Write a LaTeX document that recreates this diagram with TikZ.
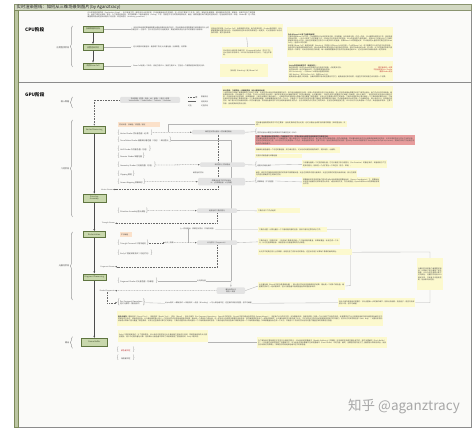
\documentclass[tikz,border=0pt]{standalone}
\usepackage{fontspec}
\setmainfont{Noto Sans CJK SC}
\XeTeXlinebreaklocale "zh"
\XeTeXlinebreakskip=0pt plus 0.3pt
\usetikzlibrary{arrows.meta,decorations.pathreplacing,calc}
\pgfdeclarelayer{bg}
\pgfsetlayers{bg,main}
\definecolor{bgin}{HTML}{FAFAF8}
\definecolor{framec}{HTML}{8C8C8C}
\definecolor{titlec}{HTML}{D2D8C2}
\definecolor{titled}{HTML}{8A9470}
\definecolor{bandc}{HTML}{BCC6A2}
\definecolor{bandd}{HTML}{7D8A5B}
\definecolor{gfill}{HTML}{C8D7AC}
\definecolor{gdark}{HTML}{5F7540}
\definecolor{gtext}{HTML}{3D4A28}
\definecolor{boxg}{HTML}{E3E3E3}
\definecolor{noteY}{HTML}{FCF9CE}
\definecolor{noteR}{HTML}{E79C9C}
\definecolor{noteO}{HTML}{FBE1CA}
\definecolor{brgray}{HTML}{9A9A9A}
\definecolor{txtc}{HTML}{4A4A4A}
\definecolor{linec}{HTML}{B4B4B4}
\definecolor{dashc}{HTML}{6A6A6A}
\definecolor{redt}{HTML}{C03030}
\definecolor{wmk}{HTML}{A8A8A8}
\newcommand{\fs}{\fontsize{1.75}{2.15}\selectfont}
\newcommand{\fr}{\fontsize{1.9}{2.3}\selectfont}
\newcommand{\fg}{\fontsize{2}{2.4}\selectfont}
\newcommand{\bropen}{{\color{brgray}\fontsize{5.5}{5.5}\selectfont\{}}
\newcommand{\brclose}{{\color{brgray}\fontsize{5.5}{5.5}\selectfont\}}}
\newcommand{\brw}[1]{\bropen\hspace{0.8pt}#1\hspace{0.8pt}\brclose}
\newcommand{\ynote}[7][noteY]{\node[notest, fill=#1, minimum width={#5pt-#3pt}, minimum height={#6pt-#4pt}, text width={#5pt-#3pt-1.6pt}] (#2) at (#3,#4) {#7};}
\newcommand{\gb}[6]{\node[gbox, minimum width={#4pt-#2pt}, minimum height={#5pt-#3pt}] (#1) at ({(#2+#4)/2},{(#3+#5)/2}) {#6};}
\newcommand{\tA}{顶点着色器是流水线的第一个可编程阶段，输入来自CPU，处理单位是顶点，每个输入的顶点都会调用一次顶点着色器。顶点着色器本身不可以创建或者销毁任何顶点，也无法得到顶点与顶点之间的关系。正因为这种相互独立性，GPU可以并行化处理每一个顶点，处理速度非常快。主要工作有：坐标变换和逐顶点光照。}
\newcommand{\tB}{光栅化阶段的目标是计算每个图元覆盖了哪些像素，以及为这些像素计算它们的颜色。三角形设置阶段计算光栅化一个三角网格所需的信息，三角形遍历阶段检查每个像素是否被一个三角网格所覆盖，如果被覆盖就会生成一个片元，并使用三个顶点的顶点信息对整个覆盖区域的像素进行插值。}
\newcommand{\tC}{片元着色器的输入是上一个阶段对顶点信息插值得到的结果，输出是一个或者多个颜色值。这一阶段可以完成很多重要的渲染技术，其中最重要的技术之一就是纹理采样。片元着色器仅可以影响单个片元，不可以将自己的任何结果直接发送给它的邻居们，但可以访问到导数信息（ddx、ddy）。}
\newcommand{\tD}{逐片元操作（Per-Fragment Operations，OpenGL中的说法，DirectX中称为输出合并阶段 Output-Merger）：决定每个片元的可见性，涉及模板测试、深度测试等；如果一个片元通过了所有的测试，就需要把这个片元的颜色值和已经存储在颜色缓冲区中的颜色进行合并，或者说是混合。}
\newcommand{\tE}{为了避免我们看到那些正在进行光栅化的图元，GPU会使用双重缓冲（Double Buffering）的策略：对场景的渲染是在幕后发生的，即在后置缓冲（Back Buffer）中；一旦场景已经被渲染到了后置缓冲中，GPU就会交换后置缓冲区和前置缓冲（Front Buffer）中的内容。}
\newcommand{\tF}{几何阶段用于和每个需要绘制的几何体打交道，负责把顶点坐标变换到屏幕空间中，再交给光栅器进行处理。对输入的渲染图元进行多步处理后，这一阶段将会输出屏幕空间的二维顶点坐标、每个顶点对应的深度值、着色等相关信息，并传递给下一个阶段。}
\begin{document}
\begin{tikzpicture}[x=1pt,y=-1pt,
  gnode/.style={draw=gdark, fill=gfill, line width=0.45pt, inner sep=0pt, font=\fg, text=gtext, align=center},
  notest/.style={anchor=north west, inner sep=0.8pt, font=\fs, align=left, text=txtc},
  gbox/.style={fill=boxg, rounded corners=1.2pt, inner sep=0.5pt, font=\fs, align=center, text=txtc},
  brrow/.style={anchor=west, inner sep=0pt, font=\fr, text=txtc},
  ptext/.style={anchor=west, inner sep=0pt, font=\fs, text=txtc},
  lbrace/.style={decorate, decoration={brace, amplitude=2.2pt}, draw=brgray, line width=0.45pt},
  lanelab/.style={anchor=east, inner sep=0pt, font=\fontsize{2.1}{2.5}\selectfont, text=txtc},
  dfl/.style={draw=dashc, dash pattern=on 0.9pt off 0.7pt, line width=0.28pt, -{Latex[length=1.8pt,width=1.5pt]}},
  sfl/.style={draw=linec, line width=0.35pt},
  sarr/.style={draw=linec, line width=0.35pt, -{Latex[length=1.8pt,width=1.5pt]}},
  mainarr/.style={draw=black!70, line width=0.45pt, -{Latex[length=2.2pt,width=2pt]}}]
\useasboundingbox (0,0) rectangle (474,430);
\begin{pgfonlayer}{bg}
\fill[white] (0,0) rectangle (474,430);
\draw[framec, fill=bgin, line width=0.7pt] (14,4) rectangle (471,427);
\draw[titled, fill=titlec, line width=0.5pt] (14,4) rectangle (471,10.5);
\draw[bandd, fill=bandc, line width=0.4pt] (14,10.5) rectangle (18.5,427);
\draw[framec, line width=0.9pt] (18.5,82.5) -- (471,82.5);
\end{pgfonlayer}
% title
\node[anchor=west, inner sep=0pt, font=\fontsize{4.3}{5}\selectfont, text=black!85] (title) at (16.5,7.3) {实时渲染管线：如何从三维场景到图片(by Aganztracy)};
% ================= CPU =================
\node[anchor=west, inner sep=0pt, font=\fontsize{4.6}{5}\selectfont\bfseries] (cpulab) at (25,29.5) {CPU阶段};
\draw[lbrace] (72.5,67) -- (72.5,26);
\node[lanelab] (cpulane) at (69.5,48) {应用程序阶段};
\node[notest, text width=168pt] (cputop) at (86.5,10.8) {CPU阶段即应用阶段（Application Stage），由开发者主导，通常由CPU负责实现，开发者拥有绝对的控制权。这一阶段主要有三个任务：首先，准备好场景数据，例如摄像机的位置、视锥体、场景中包含了哪些模型、使用了哪些光源等；其次，为了提高渲染性能，往往需要做一个粗粒度剔除（Culling）工作，把那些不可见的物体剔除出去；最后，需要设置好每个模型的渲染状态，包括使用的材质、纹理、Shader等。这一阶段最重要的输出是渲染所需的几何信息，即渲染图元（rendering primitives）。};
\node[gnode, minimum width=20pt, minimum height=6pt] (c1) at (93,29) {加载数据到显存};
\node[gnode, minimum width=20pt, minimum height=6pt] (c2) at (93,47.3) {设置渲染状态};
\node[gnode, minimum width=20pt, minimum height=6pt] (c3) at (93,66) {调用Draw Call};
\node[ptext, text width=78pt, align=left] (c1t) at (131,29) {• 所有渲染所需的数据都需要从硬盘加载到系统内存中，然后网格和纹理等数据又被加载到显卡上的存储空间——显存中。显卡对显存的访问速度更快，数据加载完成后内存中的数据可以被移除。};
\node[ptext] (c2t) at (131,47.3) {• 定义网格如何被渲染：使用哪个顶点/片元着色器、光源属性、材质等。};
\node[ptext] (c3t) at (131,66) {• Draw Call就是一个命令，发起方是CPU，接收方是GPU，它指向一个需要被渲染的图元列表。};
\ynote{n1}{210}{24}{283}{37}{渲染状态的切换（SetPass Call）会带来额外开销：每次改变材质、Shader或纹理时，GPU都需要重新设置内部状态。将使用相同渲染状态的物体放在一起提交，可以显著减少状态切换的次数，提升渲染效率。}
\ynote{n2}{222}{47}{273}{58}{CPU和GPU通过命令缓冲区（Command Buffer）并行工作：CPU向其中添加命令，GPU从中读取命令并执行，二者互不等待。}
\node[anchor=north west, inner sep=0pt, fill=noteY, minimum width=48pt, minimum height=13pt, font=\fs, text=txtc] (n3) at (220,64) {批处理（Batching）减少Draw Call};
\ynote{n4}{287}{27}{393}{57}{\textbf{为什么Draw Call多了会影响帧率？}\\在每次调用Draw Call之前，CPU需要向GPU发送很多内容，包括数据、状态和命令等。在这一阶段，CPU需要完成很多工作，例如检查渲染状态等。一旦CPU完成了这些准备工作，GPU就可以开始本次的渲染。GPU的渲染能力是很强的，渲染200个还是2000个三角网格通常没有什么区别，因此渲染速度往往快于CPU提交命令的速度。如果Draw Call的数量太多，CPU就会把大量时间花费在提交Draw Call上，造成CPU的过载。\\如何减少Draw Call？使用批处理（Batching）把很多小的Draw Call合并成一个大的Draw Call。由于需要在CPU的内存中合并网格，而合并的过程是需要消耗时间的，因此批处理技术更加适合于那些静态的物体，例如不会移动的大地、石头等，对于这些静态物体只需要合并一次即可。对动态物体进行批处理，每一帧都需要重新进行合并然后再发送给GPU，这对空间和时间都会造成一定的影响。}
\ynote{n5}{288}{61}{393}{81}{\textbf{Unity中的批处理方式（合批条件）：}\\静态批处理：标记为Static的物体在运行前合并网格，占用更多内存。\hfill\textcolor{redt}{要求使用同一材质}\\动态批处理：运行时每帧合并，顶点属性数量有限制。\hfill\textcolor{redt}{不能使用多Pass Shader}\\GPU Instancing：一次Draw Call绘制大量相同网格。\hfill\textcolor{redt}{需要Shader支持}\\SRP Batcher：减少SetPass Call，而非Draw Call。\\避免使用大量很小的网格，当确实需要时考虑是否要合并它们；避免使用过多的材质，尽量在不同的网格之间共用同一个材质。}
% ================= GPU =================
\node[anchor=west, inner sep=0pt, font=\fontsize{4.6}{5}\selectfont\bfseries] (gpulab) at (25,94.5) {GPU阶段};
\draw[lbrace] (72.5,108) -- (72.5,97);
\node[lanelab] (l1) at (69.5,102) {输入数据};
\gb{gtop}{120}{97}{180}{103}{顶点数据（位置、法线、UV、颜色）/ 索引 / 纹理\\Vertex Buffer · Index Buffer · Textures · Uniforms}
\coordinate (lg1s) at (188,97);
\coordinate (lg1e) at (197.5,97);
\node[ptext] (lg1) at (201,97) {数据流向};
\coordinate (lg2s) at (188,101.5);
\coordinate (lg2e) at (196,101.5);
\node[ptext] (lg2) at (201,101.5) {调用关系};
\node[ptext] (lg3a) at (188,106) {可选};
\node[ptext] (lg3) at (201,106) {可选阶段};
\ynote{gnote}{222}{85.5}{393}{108}{\textbf{GPU阶段：几何阶段 + 光栅化阶段（GPU渲染流水线）}\\\tF 在GPU上实现的流水线中，有的阶段是完全可编程控制的（如顶点着色器、片元着色器），有的阶段可以配置但不可编程（如裁剪、逐片元操作），有的阶段则完全由GPU固定实现，开发者没有任何控制权（如屏幕映射、三角形设置和三角形遍历）。\tB\tA}
% geometry lane
\draw[lbrace] (72.5,217) -- (72.5,120);
\node[lanelab] (l2) at (69.5,169) {几何阶段};
\node[gnode, minimum width=22pt, minimum height=7pt] (v1) at (94.3,129.5) {Vertex Processing};
\ynote[noteO]{o1}{118}{122}{160}{127}{顶点处理：可编程 / 可配置 / 固定}
\node[brrow] (r1) at (117.5,132.3) {\brw{Vertex Shader 顶点着色器（必须）}};
\node[brrow] (r2) at (117.5,140) {\brw{Tessellation Shader 曲面细分着色器（可选）：细分图元}};
\node[brrow] (r3) at (117.5,148.3) {\brw{Hull Shader 外壳着色器（可选）}};
\node[brrow] (r4) at (117.5,156) {\brw{Domain Shader 域着色器}};
\node[brrow] (r5) at (117.5,165) {\brw{Geometry Shader 几何着色器（可选）}};
\node[brrow] (r6) at (117.5,173.3) {\brw{Clipping 裁剪}};
\node[brrow] (r7) at (117.5,181.7) {\brw{Screen Mapping 屏幕映射}};
\gb{g1}{192}{130}{245}{134.5}{裁剪空间顶点坐标 + 顶点属性输出}
\gb{g5}{200}{162.5}{245}{167}{新的图元 / 顶点输出}
\node[ptext] (t6) at (193,173.3) {裁剪后的顶点};
\gb{g7}{198}{178}{245}{185.5}{屏幕坐标系下的顶点坐标\\（x、y为屏幕坐标，z为深度）}
\node[ptext, anchor=east] (vs) at (113,189.5) {Vertex Stream};
\coordinate (k1) at (168,132.3);
\ynote{ya}{255}{121}{347}{127}{顶点着色器需要完成的工作主要有：坐标变换和逐顶点光照；也可以输出后续阶段所需的数据（如纹理坐标、法线）。}
\node[ptext] (cc1) at (255,131.7) {\bropen\ 把顶点坐标从模型空间转换到齐次裁剪空间（MVP）};
\ynote[noteR]{yr}{255}{135}{415}{145}{\textbf{注意：顶点着色器必须完成的一个最基本的工作：把顶点坐标从模型空间转换到齐次裁剪空间。}\\\tA 在Unity Shader中通常写作 UnityObjectToClipPos(v.vertex)，类似的代码几乎出现在所有的顶点着色器中。}
\ynote{yb}{255}{146.7}{340}{153.3}{曲面细分着色器是一个可选的着色器，用于细分图元，可以动态地增加网格的细节，例如地形、水面等。}
\ynote{yc}{255}{154.3}{302}{157.3}{包括外壳着色器与域着色器}
\node[ptext] (cc5) at (255,165) {\bropen\ 逐图元的着色操作};
\ynote{yd}{302}{160}{387}{168.3}{几何着色器是一个可选的着色器，它可以被用于执行逐图元（Per-Primitive）的着色操作，或者被用于产生更多的图元，例如把一个点扩展为一个四边形（粒子、草地）。}
\ynote{ye}{255}{170}{357}{176.7}{裁剪：那些不在摄像机视野范围内的物体不需要被处理。完全在视野外的图元被丢弃，完全在视野内的图元继续传递，部分在视野内的图元被裁剪并生成新的顶点。}
\node[ptext] (cc7) at (255,181) {\bropen\ 屏幕映射（不可配置）};
\ynote{yf}{302}{176.7}{380}{186.7}{屏幕映射的任务是把每个图元的x和y坐标转换到屏幕坐标系（Screen Coordinates）下，屏幕坐标系和显示画面的分辨率有很大关系。z坐标保持不变，作为深度值；OpenGL和DirectX的屏幕坐标原点不同。}
\node[gnode, minimum width=23pt, minimum height=8pt] (v2) at (94.3,198) {Primitive\\Assembly};
\node[brrow] (r8) at (117.5,210.7) {\brw{Primitive Assembly 图元装配}};
\gb{g8}{197}{208.3}{237}{213}{组装后的三角形图元}
\ynote{yg}{257}{208.3}{300}{213}{三角形由三个顶点组成}
\node[ptext, anchor=east] (ts) at (115,223.3) {Triangle Stream};
% raster lane
\draw[lbrace] (72.5,300) -- (72.5,232);
\node[lanelab] (l3) at (69.5,266) {光栅化阶段};
\node[gnode, minimum width=22pt, minimum height=6pt] (v3) at (94.3,234.5) {Rasterization};
\ynote[noteO]{o2}{120}{231.7}{132}{236.7}{不可编程}
\node[ptext] (t229) at (180,229.3) {上一阶段输出：屏幕空间顶点（三角形网格）};
\node[brrow] (r9) at (117.5,242.7) {\brw{Triangle Traversal 三角形遍历}};
\node[ptext] (t9) at (165,242.7) {片元 / 像素};
\gb{g9}{197}{240.3}{237}{245}{片元序列（Fragments）}
\node[brrow] (r10) at (117.5,252.3) {\brw{Early-Z 提前深度测试（可选优化）}};
\node[ptext, anchor=east] (fs) at (115,266.7) {Fragment Stream};
\ynote{y1}{258}{227.3}{327}{232.3}{三角形设置：计算光栅化一个三角网格所需的信息，例如三角形边界的表示方式。}
\ynote{y2}{258}{238.3}{340}{245}{三角形遍历（扫描变换）：检查每个像素是否被一个三角网格所覆盖，如果被覆盖，就会生成一个片元，片元包括屏幕坐标、深度信息以及插值得到的顶点属性。}
\ynote{y3}{258}{249}{352}{255}{片元并不是真正意义上的像素，而是包含了很多状态的集合，这些状态用于计算每个像素的最终颜色。}
\ynote{ytall}{417}{258}{443}{290}{光栅化阶段的两个最重要的目标：计算每个图元覆盖了哪些像素，以及为这些像素计算它们的颜色。光栅化阶段由GPU固定实现，开发者无法直接控制，但会影响到性能。}
\node[gnode, minimum width=23pt, minimum height=6.5pt] (v4) at (94.3,277) {Fragment Processing};
\node[brrow] (r11) at (117.5,280.7) {\brw{Fragment Shader 片元着色器（可编程）}};
\node[ptext] (t11) at (197,280.7) {片元颜色值};
\coordinate (jn) at (231,280.7);
\gb{g11}{216.7}{287.3}{245}{294}{着色后的片元\\颜色 + 深度}
\node[ptext, anchor=east] (sf) at (115,290.7) {Shaded Fragments};
\ynote{y4}{258}{281.7}{345}{290}{片元着色器（DirectX中称为像素着色器）：输入是对顶点信息插值得到的结果，输出是一个或多个颜色值。最重要的技术之一是纹理采样，在片元着色器中使用插值后的纹理坐标采样。}
\node[brrow, align=left] (r12) at (120,302.7) {Per-Fragment Operations\\逐片元操作（输出合并）};
\node[anchor=east, inner sep=0pt, font=\fontsize{7}{7}\selectfont, text=brgray] (r12o) at (r12.west) {\{};
\node[anchor=west, inner sep=0pt, font=\fontsize{7}{7}\selectfont, text=brgray] (r12c) at (r12.east) {\}};
\node[ptext] (t12) at (165,303.3) {Alpha测试 → 模板测试 → 深度测试 → 混合（Blending）→ 写入颜色缓冲区；这些操作高度可配置，但不可编程};
\ynote{yh}{338}{298}{415}{307}{逐片元操作是高度可配置的：可以设置每一步的操作细节，例如比较函数、混合因子、是否开启深度写入等，但不可编程。}
\ynote{yk}{117}{311}{383}{326}{\textbf{逐片元操作：}模板测试（Stencil Test）、深度测试（Depth Test）、混合（Blend）。\tD\tC\tB}
\ynote{yi}{118}{330}{208}{341.7}{Early-Z 提前深度测试：为了提高性能，GPU会尽可能在执行片元着色器之前就进行测试，把那些被遮挡的片元提前剔除，减少不必要的着色计算。但如果片元着色器中修改了深度或使用了透明度测试，Early-Z会失效。}
\ynote{yj}{257}{336.7}{387}{348.3}{\tE 最终，当模型的图元经过了上面层层计算和测试后，就会显示到我们的屏幕上，屏幕显示的就是颜色缓冲区中的颜色值。}
% output lane
\node[gnode, minimum width=26.7pt, minimum height=7.7pt] (v5) at (94.3,342.2) {Frame Buffer};
\draw[lbrace] (72.5,348.3) -- (72.5,336.7);
\node[lanelab] (l4) at (69.5,342.3) {输出};
\node[brrow] (ra) at (116.7,349.3) {\brw{\hspace{1.5pt}\textcolor{redt}{颜色缓冲区}\hspace{1.5pt}}};
\node[brrow] (rb) at (116.7,357.3) {\brw{\hspace{1.5pt}深度缓冲区\hspace{1.5pt}}};
% watermark
\node[inner sep=0pt, font=\fontsize{13.5}{14}\selectfont, text=wmk] (wm) at (404,407) {知乎 @aganztracy};
% ================= connectors =================
\begin{pgfonlayer}{bg}
\draw[mainarr] (c1) -- (c2);
\draw[mainarr] (c2) -- (c3);
\draw[sfl] (c1.east) -- (c1t.west);
\draw[sfl] (c2.east) -- (c2t.west);
\draw[sfl] (c3.east) -- (c3t.west);
\draw[sfl] (n1.south) -- (n2.north);
\draw[dfl] (lg1s) -- (lg1e);
\draw[draw=black!60, line width=0.35pt] (lg2s) -- (lg2e);
\draw[dfl] (gtop.west) -| (v1.north);
\draw[mainarr] (v1) -- (v2);
\draw[mainarr] (v2) -- (v3);
\draw[mainarr] (v3) -- (v4);
\draw[mainarr] (v4) -- (v5);
\draw[dfl] (r1.east) -- (g1.west);
\draw[dfl] (r5.east) -- (g5.west);
\draw[dfl] (r7.east) -- (g7.west);
\draw[dfl] (g1.south) |- (vs.east);
\draw[sfl] (r2.east) -| (jn);
\draw[sfl] (k1) |- (ya.west);
\draw[sfl] (g1.east) -- (cc1.west);
\draw[sfl] (g5.east) -- (cc5.west);
\draw[sfl] (cc5.east) -- (yd.west);
\draw[sfl] (g7.east) -- (cc7.west);
\draw[sfl] (cc7.east) -- (yf.west);
\draw[dfl] (r8.east) -- (g8.west);
\draw[sfl] (g8.east) -- (yg.west);
\draw[dfl] (g8.south) |- (ts.east);
\coordinate (q1) at (350.7,229.3);
\coordinate (q2) at (350.7,285.5);
\coordinate (q3) at (430,252);
\coordinate (q4) at (188,229.3);
\coordinate (q5) at (188,242.7);
\draw[sfl] (t229.east) -- (q1) -- (q2) -- (y4.east);
\draw[sfl] (y3.east) -- (q3) |- (yh.east);
\draw[sfl] (q4) -- (q5);
\draw[dfl] (r9.east) -- (t9.west);
\draw[dfl] (t9.east) -- (g9.west);
\draw[sfl] (g9.east) -- (y2.west);
\draw[dfl] (g9.south) |- (fs.east);
\draw[sfl] (r11.east) -- (t11.west);
\draw[sfl] (t11.east) -- (jn);
\draw[sarr] (jn) -- (g11.north);
\draw[sfl] (g11.east) -- (y4.west);
\draw[dfl] (g11.west) -- (sf.east);
\draw[dfl] (sf.south) |- (r12o.west);
\draw[sfl] (r12c.east) -- (t12.west);
\draw[sfl] (t12.east) -- (yh.west);
\coordinate (m1) at (yi.south east);
\draw[sfl] (m1) -- (m1 -| yj.west);
\end{pgfonlayer}
\end{tikzpicture}
\end{document}
